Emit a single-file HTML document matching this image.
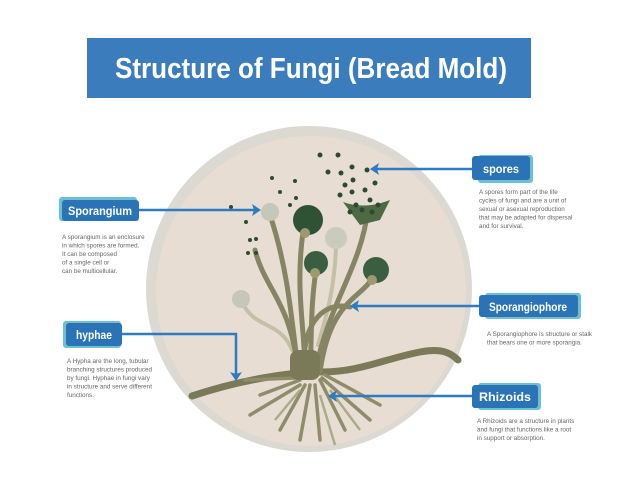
<!DOCTYPE html>
<html><head><meta charset="utf-8"><style>
html,body{margin:0;padding:0;background:#fff;}
svg{display:block;font-family:"Liberation Sans",sans-serif;}
</style></head><body>
<svg width="622" height="500" viewBox="0 0 622 500" xmlns="http://www.w3.org/2000/svg">
<rect x="87" y="38" width="444" height="60" fill="#3a7cbc"/>
<text x="311" y="78" text-anchor="middle" font-size="29" font-weight="bold" fill="#fff" textLength="392" lengthAdjust="spacingAndGlyphs">Structure of Fungi (Bread Mold)</text>

<circle cx="309" cy="289" r="163" fill="#dcd8d2"/>
<circle cx="311" cy="291" r="155" fill="#e8ddd2"/>

<path d="M192 396 C240 380 290 372 320 372 C360 372 380 360 420 352 C440 348 450 352 458 360" stroke="#7a7a58" stroke-width="7" fill="none" stroke-linecap="round"/>
<g stroke="#8e8c6a" stroke-width="3.5" fill="none" stroke-linecap="round">
<path d="M300 380 L260 395"/><path d="M300 385 L250 415"/><path d="M305 385 L280 430"/><path d="M310 385 L300 440"/><path d="M315 385 L320 440"/><path d="M320 380 L345 430"/><path d="M322 378 L370 420"/><path d="M325 375 L380 405"/><path d="M295 378 L245 380"/>
</g>
<g stroke="#a8ac8c" stroke-width="2.5" fill="none"><path d="M300 390 L275 420"/><path d="M330 390 L360 430"/><path d="M320 395 L335 445"/></g>
<g stroke="#c4c0a8" stroke-width="4" fill="none" stroke-linecap="round">
<path d="M242 302 C255 330 280 320 292 350"/>
<path d="M336 245 C335 290 325 320 318 345"/>
</g>
<g stroke="#858463" stroke-width="5" fill="none" stroke-linecap="round">
<path d="M270 215 C285 260 290 300 298 370"/>
<path d="M255 250 C265 290 290 300 298 370"/>
<path d="M303 232 C295 290 305 330 305 372"/>
<path d="M316 270 C310 310 312 340 310 372"/>
<path d="M368 210 C360 270 330 300 315 372"/>
<path d="M374 276 C360 300 330 300 320 372"/>
<path d="M350 307 C320 300 300 330 305 372"/>
</g>
<rect x="290" y="350" width="30" height="30" fill="#7a7a58" rx="8"/>
<circle cx="270" cy="212" r="9" fill="#c5c7b8"/><circle cx="241" cy="299" r="9" fill="#c5c7b8"/><circle cx="336" cy="238" r="11" fill="#c9cbbd"/>
<circle cx="308" cy="220" r="15" fill="#2f5235"/><circle cx="316" cy="263" r="12" fill="#3a5e40"/><circle cx="376" cy="270" r="13" fill="#3a5e40"/>
<circle cx="305" cy="233" r="5" fill="#9e9a70"/><circle cx="315" cy="273" r="5" fill="#9e9a70"/><circle cx="372" cy="280" r="5" fill="#9e9a70"/>
<path d="M343 202 L360 225 L380 220 L390 200 Q365 210 343 202Z" fill="#4d6a45"/>
<g fill="#2d4a30">
<circle cx="320" cy="155" r="2.5"/><circle cx="338" cy="155" r="2.5"/><circle cx="328" cy="172" r="2.5"/><circle cx="341" cy="173" r="2.5"/><circle cx="352" cy="167" r="2.5"/><circle cx="367" cy="170" r="2.5"/><circle cx="345" cy="185" r="2.5"/><circle cx="353" cy="180" r="2.5"/><circle cx="375" cy="183" r="2.5"/><circle cx="340" cy="195" r="2.5"/><circle cx="352" cy="192" r="2.5"/><circle cx="365" cy="190" r="2.5"/><circle cx="370" cy="200" r="2.5"/><circle cx="356" cy="205" r="2.5"/><circle cx="362" cy="210" r="2.5"/><circle cx="372" cy="212" r="2.5"/><circle cx="378" cy="205" r="2.5"/><circle cx="350" cy="212" r="2.5"/>
<circle cx="272" cy="178" r="2"/><circle cx="295" cy="181" r="2"/><circle cx="280" cy="192" r="2"/><circle cx="296" cy="198" r="2"/><circle cx="290" cy="205" r="2"/><circle cx="231" cy="207" r="2"/><circle cx="246" cy="222" r="2"/><circle cx="250" cy="240" r="2"/><circle cx="256" cy="239" r="2"/><circle cx="248" cy="253" r="2"/><circle cx="256" cy="253" r="2"/>
</g>

<g stroke="#2e7bc1" stroke-width="2.5" fill="none">
<path d="M138 210 L255 210"/><path d="M122 334 L236 334 L236 375"/>
<path d="M472 169 L376 169"/><path d="M479 306 L356 306"/><path d="M472 396 L334 396"/>
</g>
<g fill="#2e7bc1">
<path d="M261 210 L252 204 L254 210 L252 216Z"/><path d="M236 381 L230 372 L236 374 L242 372Z"/>
<path d="M370 169 L379 163 L377 169 L379 175Z"/><path d="M350 306 L359 300 L357 306 L359 312Z"/><path d="M328 396 L337 390 L335 396 L337 402Z"/>
</g>

<g font-weight="bold" fill="#fff">
<rect x="59" y="197" width="78" height="24" rx="3" fill="#6cc0cf"/><rect x="62" y="200" width="77" height="21" rx="3" fill="#2a73b6"/>
<text x="100" y="215" text-anchor="middle" font-size="11.5" textLength="64" lengthAdjust="spacingAndGlyphs">Sporangium</text>
<rect x="63" y="321" width="58" height="27" rx="3" fill="#6cc0cf"/><rect x="66" y="323" width="56" height="23" rx="3" fill="#2a73b6"/>
<text x="94" y="339" text-anchor="middle" font-size="12" textLength="36" lengthAdjust="spacingAndGlyphs">hyphae</text>
<rect x="478" y="155" width="55" height="28" rx="3" fill="#6cc0cf"/><rect x="472" y="156" width="58" height="24" rx="3" fill="#2a73b6"/>
<text x="501" y="173" text-anchor="middle" font-size="11.5" textLength="36" lengthAdjust="spacingAndGlyphs">spores</text>
<rect x="485" y="293" width="96" height="26" rx="3" fill="#6cc0cf"/><rect x="479" y="295" width="99" height="22" rx="3" fill="#2a73b6"/>
<text x="528" y="311" text-anchor="middle" font-size="11.5" textLength="78" lengthAdjust="spacingAndGlyphs">Sporangiophore</text>
<rect x="478" y="383" width="63" height="27" rx="3" fill="#6cc0cf"/><rect x="472" y="385" width="66" height="23" rx="3" fill="#2a73b6"/>
<text x="505" y="401" text-anchor="middle" font-size="12" textLength="52" lengthAdjust="spacingAndGlyphs">Rhizoids</text>
</g>

<g font-size="6.3" fill="#666">
<text x="62" y="239">A sporangium is an enclosure</text><text x="62" y="247.5">in which spores are formed.</text><text x="62" y="256">It can be composed</text><text x="62" y="264.5">of a single cell or</text><text x="62" y="273">can be multicellular.</text>
<text x="67" y="363">A Hypha are the long, tubular</text><text x="67" y="371.5">branching structures produced</text><text x="67" y="380">by fungi.  Hyphae in fungi vary</text><text x="67" y="388.5">in structure and serve different</text><text x="67" y="397">functions.</text>
<text x="479" y="194">A spores form part of the life</text><text x="479" y="202.5">cycles of fungi and are a unit of</text><text x="479" y="211">sexual or asexual reproduction</text><text x="479" y="219.5">that may be adapted for dispersal</text><text x="479" y="228">and for survival.</text>
<text x="487" y="336">A Sporangiophore is structure or stalk</text><text x="487" y="344.5">that bears one or more sporangia.</text>
<text x="477" y="423">A Rhizoids are a structure in plants</text><text x="477" y="431.5">and fungi that functions like a root</text><text x="477" y="440">in support or absorption.</text>
</g>
</svg>
</body></html>
